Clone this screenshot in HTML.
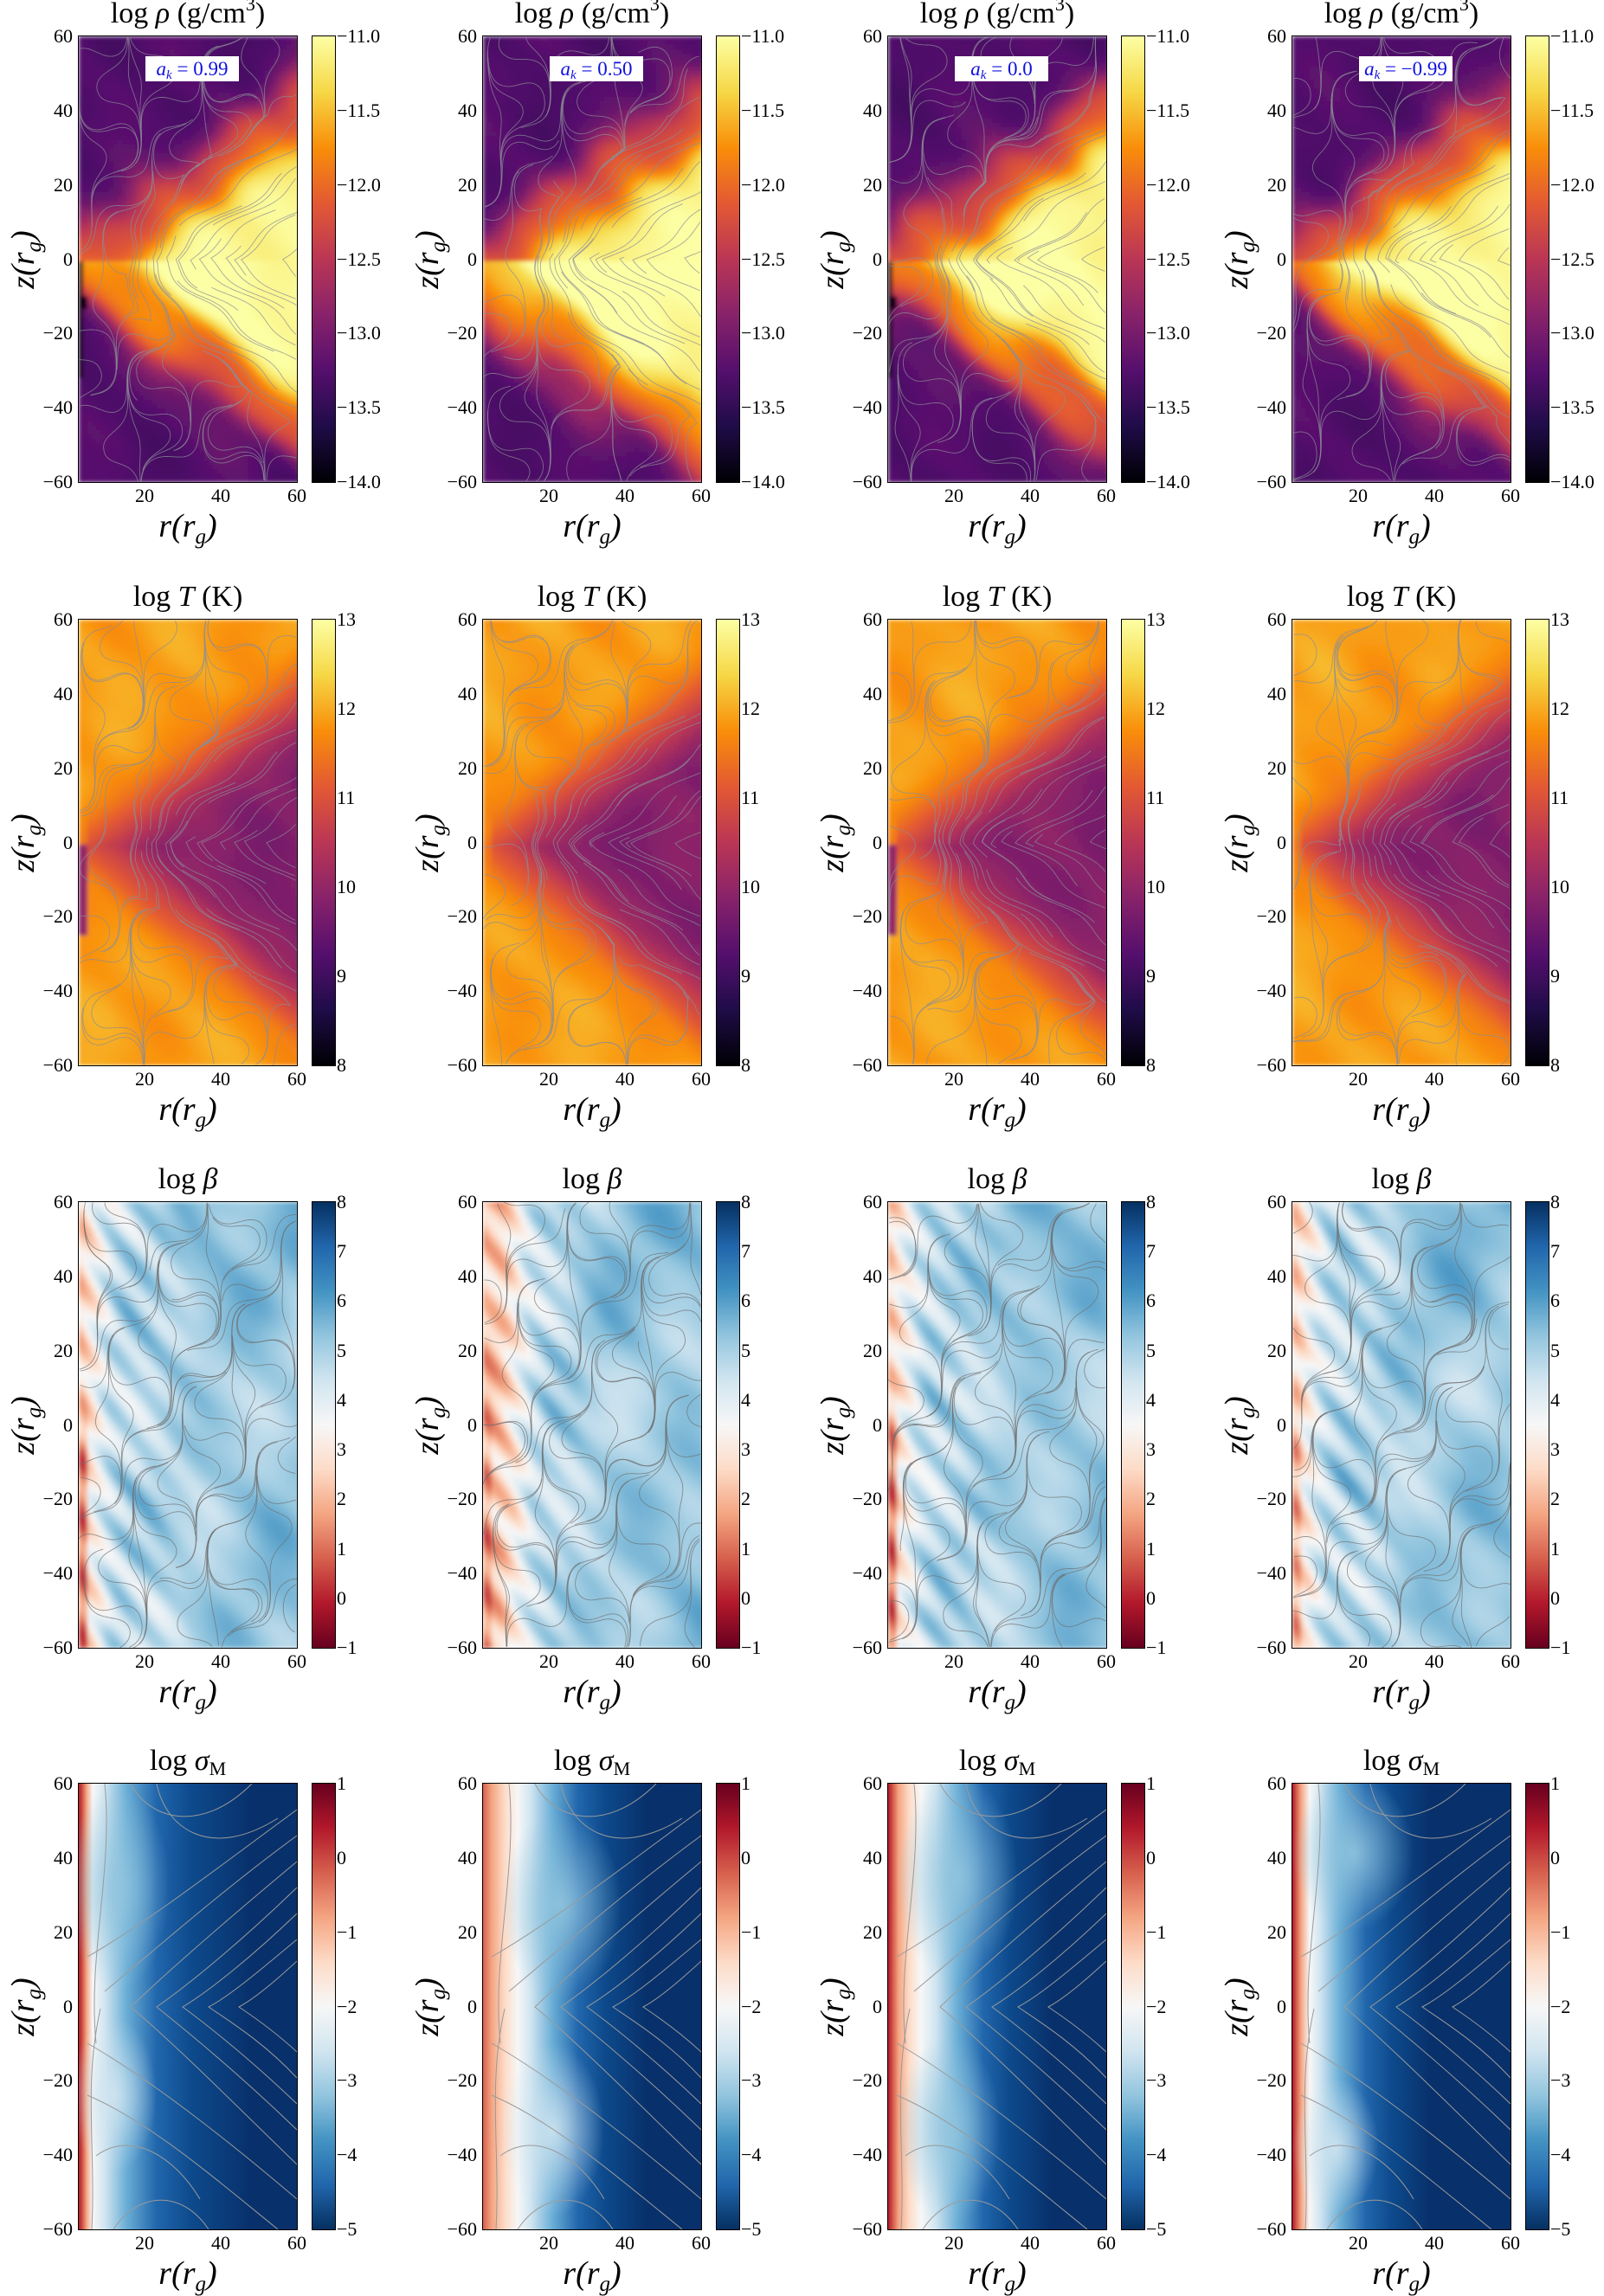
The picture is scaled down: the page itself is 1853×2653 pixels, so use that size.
<!DOCTYPE html>
<html><head><meta charset="utf-8">
<style>
body{margin:0;background:#fff;width:1853px;height:2646px;position:relative;overflow:hidden;font-family:"Liberation Serif",serif;color:#000}
.p{position:absolute;width:252px;height:515px}
.m,.m3{position:absolute;left:0;top:0;width:252px;height:515px;outline:1.5px solid #000;overflow:hidden}
.cb,.cb3{position:absolute;left:270px;top:0;width:26px;height:515px;outline:1.5px solid #000}
.cb3{background:linear-gradient(to bottom,#67001f,#b2182b,#d6604d,#f4a582,#fddbc7,#f7f7f7,#d1e5f0,#92c5de,#4393c3,#2166ac,#053061)}
.m3 svg{position:absolute;left:0;top:0}
.ti{position:absolute;left:-60px;width:372px;text-align:center;top:-46px;font-size:34px;line-height:40px;white-space:nowrap}
.ti sup{font-size:22px;vertical-align:14px;line-height:0}
.ti sub{font-size:22px;vertical-align:-6px;line-height:0}
.yt{position:absolute;right:259px;font-size:22px;line-height:22px;margin-top:-11px;white-space:nowrap}
.xt{position:absolute;top:520px;font-size:22px;line-height:22px;width:40px;margin-left:-20px;text-align:center}
.xl{position:absolute;left:0;width:252px;text-align:center;top:546px;font-size:38px;line-height:40px;font-style:italic}
.xl sub,.yl sub{font-size:25px;vertical-align:-8px;line-height:0}
.yl{position:absolute;left:-92px;top:238px;width:80px;height:40px;font-size:38px;line-height:40px;font-style:italic;text-align:center;transform:rotate(-90deg);transform-origin:center;white-space:nowrap;margin-left:-12px}
.ct{position:absolute;left:298px;font-size:22px;line-height:22px;margin-top:-11px;white-space:nowrap}
.ak{position:absolute;left:77px;top:23px;width:108px;height:29px;background:#fff;color:#1010e0;font-size:23px;line-height:29px;text-align:center;white-space:nowrap;z-index:2}
.ak sub{font-size:15px;vertical-align:-4px;line-height:0}
</style></head><body>

<svg width="0" height="0" style="position:absolute"><defs><g id="sl" fill="none" stroke="#9a9a9a" stroke-width="1">
<path d="M252 150 C200 200 150 240 120 258 C150 280 200 320 252 370"/>
<path d="M252 180 C210 215 175 245 150 258 C175 275 215 300 252 340"/>
<path d="M252 205 C225 230 200 250 185 258 C200 268 225 285 252 310"/>
<path d="M252 120 C190 180 130 230 90 258 C130 290 190 340 252 400"/>
<path d="M252 90 C180 150 110 210 60 258 C110 300 180 370 252 440"/>
<path d="M252 60 C170 120 90 190 30 240"/>
<path d="M252 30 C170 90 80 160 10 200"/>
<path d="M10 300 C80 340 170 410 252 480"/>
<path d="M10 360 C80 390 150 450 230 515"/>
<path d="M30 0 C40 100 10 200 20 300"/>
<path d="M15 515 C20 420 5 350 25 260"/>
<path d="M60 0 C80 40 140 60 200 0"/>
<path d="M40 515 C70 470 120 470 150 515"/>
<path d="M90 0 C100 50 150 90 230 40"/>
<path d="M20 430 C60 400 110 430 140 480"/>
</g></defs></svg>

<!-- ROW 0 -->
<div class="p" style="left:91px;top:42px"><div class="m"></div><div class="cb"></div>
<div class="ti">log <i>ρ</i> (g/cm<sup>3</sup>)</div><div class="ak"><i>a<sub>k</sub></i> = 0.99</div>
<div class="yt" style="top:0">60</div><div class="yt" style="top:86px">40</div><div class="yt" style="top:172px">20</div><div class="yt" style="top:258px">0</div><div class="yt" style="top:343px">−20</div><div class="yt" style="top:429px">−40</div><div class="yt" style="top:515px">−60</div>
<div class="xt" style="left:76px">20</div><div class="xt" style="left:164px">40</div><div class="xt" style="left:252px">60</div>
<div class="xl">r(r<sub>g</sub>)</div><div class="yl">z(r<sub>g</sub>)</div>
<div class="ct" style="top:0">−11.0</div><div class="ct" style="top:86px">−11.5</div><div class="ct" style="top:172px">−12.0</div><div class="ct" style="top:258px">−12.5</div><div class="ct" style="top:343px">−13.0</div><div class="ct" style="top:429px">−13.5</div><div class="ct" style="top:515px">−14.0</div></div>

<div class="p" style="left:558px;top:42px"><div class="m"></div><div class="cb"></div>
<div class="ti">log <i>ρ</i> (g/cm<sup>3</sup>)</div><div class="ak"><i>a<sub>k</sub></i> = 0.50</div>
<div class="yt" style="top:0">60</div><div class="yt" style="top:86px">40</div><div class="yt" style="top:172px">20</div><div class="yt" style="top:258px">0</div><div class="yt" style="top:343px">−20</div><div class="yt" style="top:429px">−40</div><div class="yt" style="top:515px">−60</div>
<div class="xt" style="left:76px">20</div><div class="xt" style="left:164px">40</div><div class="xt" style="left:252px">60</div>
<div class="xl">r(r<sub>g</sub>)</div><div class="yl">z(r<sub>g</sub>)</div>
<div class="ct" style="top:0">−11.0</div><div class="ct" style="top:86px">−11.5</div><div class="ct" style="top:172px">−12.0</div><div class="ct" style="top:258px">−12.5</div><div class="ct" style="top:343px">−13.0</div><div class="ct" style="top:429px">−13.5</div><div class="ct" style="top:515px">−14.0</div></div>

<div class="p" style="left:1026px;top:42px"><div class="m"></div><div class="cb"></div>
<div class="ti">log <i>ρ</i> (g/cm<sup>3</sup>)</div><div class="ak"><i>a<sub>k</sub></i> = 0.0</div>
<div class="yt" style="top:0">60</div><div class="yt" style="top:86px">40</div><div class="yt" style="top:172px">20</div><div class="yt" style="top:258px">0</div><div class="yt" style="top:343px">−20</div><div class="yt" style="top:429px">−40</div><div class="yt" style="top:515px">−60</div>
<div class="xt" style="left:76px">20</div><div class="xt" style="left:164px">40</div><div class="xt" style="left:252px">60</div>
<div class="xl">r(r<sub>g</sub>)</div><div class="yl">z(r<sub>g</sub>)</div>
<div class="ct" style="top:0">−11.0</div><div class="ct" style="top:86px">−11.5</div><div class="ct" style="top:172px">−12.0</div><div class="ct" style="top:258px">−12.5</div><div class="ct" style="top:343px">−13.0</div><div class="ct" style="top:429px">−13.5</div><div class="ct" style="top:515px">−14.0</div></div>

<div class="p" style="left:1493px;top:42px"><div class="m"></div><div class="cb"></div>
<div class="ti">log <i>ρ</i> (g/cm<sup>3</sup>)</div><div class="ak"><i>a<sub>k</sub></i> = −0.99</div>
<div class="yt" style="top:0">60</div><div class="yt" style="top:86px">40</div><div class="yt" style="top:172px">20</div><div class="yt" style="top:258px">0</div><div class="yt" style="top:343px">−20</div><div class="yt" style="top:429px">−40</div><div class="yt" style="top:515px">−60</div>
<div class="xt" style="left:76px">20</div><div class="xt" style="left:164px">40</div><div class="xt" style="left:252px">60</div>
<div class="xl">r(r<sub>g</sub>)</div><div class="yl">z(r<sub>g</sub>)</div>
<div class="ct" style="top:0">−11.0</div><div class="ct" style="top:86px">−11.5</div><div class="ct" style="top:172px">−12.0</div><div class="ct" style="top:258px">−12.5</div><div class="ct" style="top:343px">−13.0</div><div class="ct" style="top:429px">−13.5</div><div class="ct" style="top:515px">−14.0</div></div>

<!-- ROW 1 -->
<div class="p" style="left:91px;top:716px"><div class="m"></div><div class="cb"></div>
<div class="ti">log <i>T</i> (K)</div>
<div class="yt" style="top:0">60</div><div class="yt" style="top:86px">40</div><div class="yt" style="top:172px">20</div><div class="yt" style="top:258px">0</div><div class="yt" style="top:343px">−20</div><div class="yt" style="top:429px">−40</div><div class="yt" style="top:515px">−60</div>
<div class="xt" style="left:76px">20</div><div class="xt" style="left:164px">40</div><div class="xt" style="left:252px">60</div>
<div class="xl">r(r<sub>g</sub>)</div><div class="yl">z(r<sub>g</sub>)</div>
<div class="ct" style="top:0">13</div><div class="ct" style="top:103px">12</div><div class="ct" style="top:206px">11</div><div class="ct" style="top:309px">10</div><div class="ct" style="top:412px">9</div><div class="ct" style="top:515px">8</div></div>

<div class="p" style="left:558px;top:716px"><div class="m"></div><div class="cb"></div>
<div class="ti">log <i>T</i> (K)</div>
<div class="yt" style="top:0">60</div><div class="yt" style="top:86px">40</div><div class="yt" style="top:172px">20</div><div class="yt" style="top:258px">0</div><div class="yt" style="top:343px">−20</div><div class="yt" style="top:429px">−40</div><div class="yt" style="top:515px">−60</div>
<div class="xt" style="left:76px">20</div><div class="xt" style="left:164px">40</div><div class="xt" style="left:252px">60</div>
<div class="xl">r(r<sub>g</sub>)</div><div class="yl">z(r<sub>g</sub>)</div>
<div class="ct" style="top:0">13</div><div class="ct" style="top:103px">12</div><div class="ct" style="top:206px">11</div><div class="ct" style="top:309px">10</div><div class="ct" style="top:412px">9</div><div class="ct" style="top:515px">8</div></div>

<div class="p" style="left:1026px;top:716px"><div class="m"></div><div class="cb"></div>
<div class="ti">log <i>T</i> (K)</div>
<div class="yt" style="top:0">60</div><div class="yt" style="top:86px">40</div><div class="yt" style="top:172px">20</div><div class="yt" style="top:258px">0</div><div class="yt" style="top:343px">−20</div><div class="yt" style="top:429px">−40</div><div class="yt" style="top:515px">−60</div>
<div class="xt" style="left:76px">20</div><div class="xt" style="left:164px">40</div><div class="xt" style="left:252px">60</div>
<div class="xl">r(r<sub>g</sub>)</div><div class="yl">z(r<sub>g</sub>)</div>
<div class="ct" style="top:0">13</div><div class="ct" style="top:103px">12</div><div class="ct" style="top:206px">11</div><div class="ct" style="top:309px">10</div><div class="ct" style="top:412px">9</div><div class="ct" style="top:515px">8</div></div>

<div class="p" style="left:1493px;top:716px"><div class="m"></div><div class="cb"></div>
<div class="ti">log <i>T</i> (K)</div>
<div class="yt" style="top:0">60</div><div class="yt" style="top:86px">40</div><div class="yt" style="top:172px">20</div><div class="yt" style="top:258px">0</div><div class="yt" style="top:343px">−20</div><div class="yt" style="top:429px">−40</div><div class="yt" style="top:515px">−60</div>
<div class="xt" style="left:76px">20</div><div class="xt" style="left:164px">40</div><div class="xt" style="left:252px">60</div>
<div class="xl">r(r<sub>g</sub>)</div><div class="yl">z(r<sub>g</sub>)</div>
<div class="ct" style="top:0">13</div><div class="ct" style="top:103px">12</div><div class="ct" style="top:206px">11</div><div class="ct" style="top:309px">10</div><div class="ct" style="top:412px">9</div><div class="ct" style="top:515px">8</div></div>

<!-- ROW 2 -->
<div class="p" style="left:91px;top:1389px"><div class="m"></div><div class="cb"></div>
<div class="ti">log <i>β</i></div>
<div class="yt" style="top:0">60</div><div class="yt" style="top:86px">40</div><div class="yt" style="top:172px">20</div><div class="yt" style="top:258px">0</div><div class="yt" style="top:343px">−20</div><div class="yt" style="top:429px">−40</div><div class="yt" style="top:515px">−60</div>
<div class="xt" style="left:76px">20</div><div class="xt" style="left:164px">40</div><div class="xt" style="left:252px">60</div>
<div class="xl">r(r<sub>g</sub>)</div><div class="yl">z(r<sub>g</sub>)</div>
<div class="ct" style="top:0">8</div><div class="ct" style="top:57px">7</div><div class="ct" style="top:114px">6</div><div class="ct" style="top:172px">5</div><div class="ct" style="top:229px">4</div><div class="ct" style="top:286px">3</div><div class="ct" style="top:343px">2</div><div class="ct" style="top:401px">1</div><div class="ct" style="top:458px">0</div><div class="ct" style="top:515px">−1</div></div>

<div class="p" style="left:558px;top:1389px"><div class="m"></div><div class="cb"></div>
<div class="ti">log <i>β</i></div>
<div class="yt" style="top:0">60</div><div class="yt" style="top:86px">40</div><div class="yt" style="top:172px">20</div><div class="yt" style="top:258px">0</div><div class="yt" style="top:343px">−20</div><div class="yt" style="top:429px">−40</div><div class="yt" style="top:515px">−60</div>
<div class="xt" style="left:76px">20</div><div class="xt" style="left:164px">40</div><div class="xt" style="left:252px">60</div>
<div class="xl">r(r<sub>g</sub>)</div><div class="yl">z(r<sub>g</sub>)</div>
<div class="ct" style="top:0">8</div><div class="ct" style="top:57px">7</div><div class="ct" style="top:114px">6</div><div class="ct" style="top:172px">5</div><div class="ct" style="top:229px">4</div><div class="ct" style="top:286px">3</div><div class="ct" style="top:343px">2</div><div class="ct" style="top:401px">1</div><div class="ct" style="top:458px">0</div><div class="ct" style="top:515px">−1</div></div>

<div class="p" style="left:1026px;top:1389px"><div class="m"></div><div class="cb"></div>
<div class="ti">log <i>β</i></div>
<div class="yt" style="top:0">60</div><div class="yt" style="top:86px">40</div><div class="yt" style="top:172px">20</div><div class="yt" style="top:258px">0</div><div class="yt" style="top:343px">−20</div><div class="yt" style="top:429px">−40</div><div class="yt" style="top:515px">−60</div>
<div class="xt" style="left:76px">20</div><div class="xt" style="left:164px">40</div><div class="xt" style="left:252px">60</div>
<div class="xl">r(r<sub>g</sub>)</div><div class="yl">z(r<sub>g</sub>)</div>
<div class="ct" style="top:0">8</div><div class="ct" style="top:57px">7</div><div class="ct" style="top:114px">6</div><div class="ct" style="top:172px">5</div><div class="ct" style="top:229px">4</div><div class="ct" style="top:286px">3</div><div class="ct" style="top:343px">2</div><div class="ct" style="top:401px">1</div><div class="ct" style="top:458px">0</div><div class="ct" style="top:515px">−1</div></div>

<div class="p" style="left:1493px;top:1389px"><div class="m"></div><div class="cb"></div>
<div class="ti">log <i>β</i></div>
<div class="yt" style="top:0">60</div><div class="yt" style="top:86px">40</div><div class="yt" style="top:172px">20</div><div class="yt" style="top:258px">0</div><div class="yt" style="top:343px">−20</div><div class="yt" style="top:429px">−40</div><div class="yt" style="top:515px">−60</div>
<div class="xt" style="left:76px">20</div><div class="xt" style="left:164px">40</div><div class="xt" style="left:252px">60</div>
<div class="xl">r(r<sub>g</sub>)</div><div class="yl">z(r<sub>g</sub>)</div>
<div class="ct" style="top:0">8</div><div class="ct" style="top:57px">7</div><div class="ct" style="top:114px">6</div><div class="ct" style="top:172px">5</div><div class="ct" style="top:229px">4</div><div class="ct" style="top:286px">3</div><div class="ct" style="top:343px">2</div><div class="ct" style="top:401px">1</div><div class="ct" style="top:458px">0</div><div class="ct" style="top:515px">−1</div></div>

<!-- ROW 3 (static) -->
<div class="p" style="left:91px;top:2061px"><div class="m3" style="background:radial-gradient(ellipse 50px 90px at 40px 360px,rgba(209,229,240,0.9),rgba(209,229,240,0)),radial-gradient(ellipse 60px 120px at 45px 120px,rgba(146,197,222,0.9),rgba(146,197,222,0)),linear-gradient(to right,#b2182b 0,#d6604d 5px,#f4a582 9px,#f7f7f7 16px,#d1e5f0 30px,#6aaed6 55px,#2166ac 90px,#0d4a8c 130px,#08306b 200px,#08306b 252px)"><svg width="252" height="515"><use href="#sl"/></svg></div><div class="cb3"></div>
<div class="ti">log <i>σ</i><sub>M</sub></div>
<div class="yt" style="top:0">60</div><div class="yt" style="top:86px">40</div><div class="yt" style="top:172px">20</div><div class="yt" style="top:258px">0</div><div class="yt" style="top:343px">−20</div><div class="yt" style="top:429px">−40</div><div class="yt" style="top:515px">−60</div>
<div class="xt" style="left:76px">20</div><div class="xt" style="left:164px">40</div><div class="xt" style="left:252px">60</div>
<div class="xl">r(r<sub>g</sub>)</div><div class="yl">z(r<sub>g</sub>)</div>
<div class="ct" style="top:0">1</div><div class="ct" style="top:86px">0</div><div class="ct" style="top:172px">−1</div><div class="ct" style="top:258px">−2</div><div class="ct" style="top:343px">−3</div><div class="ct" style="top:429px">−4</div><div class="ct" style="top:515px">−5</div></div>

<div class="p" style="left:558px;top:2061px"><div class="m3" style="background:radial-gradient(ellipse 70px 110px at 90px 140px,rgba(146,197,222,0.9),rgba(146,197,222,0)),radial-gradient(ellipse 60px 100px at 80px 400px,rgba(209,229,240,0.9),rgba(209,229,240,0)),linear-gradient(to right,#d6604d 0,#f4a582 10px,#fddbc7 25px,#f7f7f7 40px,#d1e5f0 55px,#6aaed6 80px,#2166ac 110px,#0d4a8c 140px,#08306b 190px,#08306b 252px)"><svg width="252" height="515"><use href="#sl"/></svg></div><div class="cb3"></div>
<div class="ti">log <i>σ</i><sub>M</sub></div>
<div class="yt" style="top:0">60</div><div class="yt" style="top:86px">40</div><div class="yt" style="top:172px">20</div><div class="yt" style="top:258px">0</div><div class="yt" style="top:343px">−20</div><div class="yt" style="top:429px">−40</div><div class="yt" style="top:515px">−60</div>
<div class="xt" style="left:76px">20</div><div class="xt" style="left:164px">40</div><div class="xt" style="left:252px">60</div>
<div class="xl">r(r<sub>g</sub>)</div><div class="yl">z(r<sub>g</sub>)</div>
<div class="ct" style="top:0">1</div><div class="ct" style="top:86px">0</div><div class="ct" style="top:172px">−1</div><div class="ct" style="top:258px">−2</div><div class="ct" style="top:343px">−3</div><div class="ct" style="top:429px">−4</div><div class="ct" style="top:515px">−5</div></div>

<div class="p" style="left:1026px;top:2061px"><div class="m3" style="background:radial-gradient(ellipse 70px 120px at 80px 110px,rgba(146,197,222,0.9),rgba(146,197,222,0)),radial-gradient(ellipse 60px 110px at 70px 400px,rgba(146,197,222,0.9),rgba(146,197,222,0)),linear-gradient(to right,#b2182b 0,#d6604d 6px,#f4a582 12px,#fddbc7 24px,#f7f7f7 38px,#d1e5f0 55px,#6aaed6 80px,#2166ac 110px,#0d4a8c 140px,#08306b 190px,#08306b 252px)"><svg width="252" height="515"><use href="#sl"/></svg></div><div class="cb3"></div>
<div class="ti">log <i>σ</i><sub>M</sub></div>
<div class="yt" style="top:0">60</div><div class="yt" style="top:86px">40</div><div class="yt" style="top:172px">20</div><div class="yt" style="top:258px">0</div><div class="yt" style="top:343px">−20</div><div class="yt" style="top:429px">−40</div><div class="yt" style="top:515px">−60</div>
<div class="xt" style="left:76px">20</div><div class="xt" style="left:164px">40</div><div class="xt" style="left:252px">60</div>
<div class="xl">r(r<sub>g</sub>)</div><div class="yl">z(r<sub>g</sub>)</div>
<div class="ct" style="top:0">1</div><div class="ct" style="top:86px">0</div><div class="ct" style="top:172px">−1</div><div class="ct" style="top:258px">−2</div><div class="ct" style="top:343px">−3</div><div class="ct" style="top:429px">−4</div><div class="ct" style="top:515px">−5</div></div>

<div class="p" style="left:1493px;top:2061px"><div class="m3" style="background:radial-gradient(ellipse 70px 90px at 70px 80px,rgba(146,197,222,0.9),rgba(146,197,222,0)),radial-gradient(ellipse 50px 80px at 50px 420px,rgba(209,229,240,0.9),rgba(209,229,240,0)),linear-gradient(to right,#b2182b 0,#d6604d 5px,#f4a582 10px,#f7f7f7 20px,#d1e5f0 32px,#6aaed6 55px,#2166ac 85px,#0d4a8c 115px,#08306b 160px,#08306b 252px)"><svg width="252" height="515"><use href="#sl"/></svg></div><div class="cb3"></div>
<div class="ti">log <i>σ</i><sub>M</sub></div>
<div class="yt" style="top:0">60</div><div class="yt" style="top:86px">40</div><div class="yt" style="top:172px">20</div><div class="yt" style="top:258px">0</div><div class="yt" style="top:343px">−20</div><div class="yt" style="top:429px">−40</div><div class="yt" style="top:515px">−60</div>
<div class="xt" style="left:76px">20</div><div class="xt" style="left:164px">40</div><div class="xt" style="left:252px">60</div>
<div class="xl">r(r<sub>g</sub>)</div><div class="yl">z(r<sub>g</sub>)</div>
<div class="ct" style="top:0">1</div><div class="ct" style="top:86px">0</div><div class="ct" style="top:172px">−1</div><div class="ct" style="top:258px">−2</div><div class="ct" style="top:343px">−3</div><div class="ct" style="top:429px">−4</div><div class="ct" style="top:515px">−5</div></div>

<script>
(function(){
function hex(h){return [parseInt(h.substr(1,2),16),parseInt(h.substr(3,2),16),parseInt(h.substr(5,2),16)];}
var INFH=["#000004","#1f0c48","#550f6d","#88226a","#ba3655","#e35933","#f98e09","#f6d746","#fcffa4"];
var RDBUH=["#67001f","#b2182b","#d6604d","#f4a582","#fddbc7","#f7f7f7","#d1e5f0","#92c5de","#4393c3","#2166ac","#053061"];
var INF=INFH.map(hex),RDBU=RDBUH.map(hex);
function cm(st,t){if(!(t>=0))t=0;t=Math.min(1,t);var n=st.length-1,f=t*n,i=Math.min(n-1,Math.floor(f)),u=f-i,a=st[i],b=st[i+1];
return 'rgb('+Math.round(a[0]+(b[0]-a[0])*u)+','+Math.round(a[1]+(b[1]-a[1])*u)+','+Math.round(a[2]+(b[2]-a[2])*u)+')';}
function sg(x){return 1/(1+Math.exp(-x));}
function nz(r,z,s){return Math.sin(0.21*r+0.13*z+s)*0.5+Math.sin(0.09*z-0.17*r+2.1*s)*0.35+Math.sin(0.33*z+0.27*r+3.7*s)*0.25;}
function field(row,col,r,z){
  var s=col*1.7+0.5,n=nz(r,z,s),az=Math.abs(z);
  if(row==0){
    var up=0.72*(r-6)+3*n, lo=0.8*(r-4)+4*n+(col==1?6:0);
    var e=z>=0?up:lo;
    var t=0.24+0.36*sg((e+10-az)/3)+0.38*sg((e-8-az)/3)+0.03*n;
    if(z<0) t+=0.12*sg((lo+14-az)/4)*sg((40-r)/6);
    if(col==0||col==2){var bh=4.5-0.06*Math.abs(z+12);if(r<bh&&z<0&&z>-32) t=0.03;}
    return cm(INF,t);
  } else if(row==1){
    var up2=0.75*(r-8)+3*n, lo2=0.85*(r-6)+4*n;
    var e2=z>=0?up2:lo2;
    var t2=0.78-0.2*sg((e2+6-az)/4)-0.22*sg((e2-6-az)/4)+0.04*n;
    if(r<5) t2+=0.08*sg((4-az)/2);
    if((col==0||col==2)&&r<4.5&&z<0&&z>-25) t2=0.4;
    return cm(INF,t2);
  } else {
    var u=0.64+0.07*n+0.08*sg((r-40)/8)*sg(-z/10);
    u+=0.08*sg((z-0.5*r)/5)*sg((r-30)/4);
    var edge=7+(col==1?5:0)+3*n;
    u-=0.3*sg((edge-r)/2);
    if(r<5) u-=0.18*sg((-z)/4)*(col==0||col==2?1:0.5);
    u+=0.1*Math.sin(0.5*r+0.4*z+s)*sg((25-r)/5);
    return cm(RDBU,u);
  }
}
var mains=document.querySelectorAll('div.m'), cbs=document.querySelectorAll('div.cb');
var W=252,H=515,CS=5;
function draw(k){
  var row=Math.floor(k/4),col=k%4;
  var h=['<svg width="252" height="515" xmlns="http://www.w3.org/2000/svg"><defs><filter id="b'+k+'" x="0" y="0" width="1" height="1"><feGaussianBlur stdDeviation="2.5" edgeMode="duplicate"/></filter></defs><g filter="url(#b'+k+')">'];
  for(var y=0;y<H;y+=CS){var z=60-120*(y+CS/2)/H;for(var x=0;x<W;x+=CS){var r=2.7+57.3*(x+CS/2)/W;
    h.push('<rect x="'+x+'" y="'+y+'" width="'+(CS+0.6)+'" height="'+(CS+0.6)+'" fill="'+field(row,col,r,z)+'"/>');}}
  h.push('</g>');
  var s=col*1.3+row*0.7;
  var ang=function(x,y){var r=2.7+57.3*x/W,z=60-120*y/H;
    var a=Math.PI/2+1.1*Math.sin(0.05*x+0.03*y+s)+0.9*Math.cos(0.045*y-0.035*x+2*s);
    if(row<2&&r>15&&Math.abs(z)<0.75*r){a=Math.PI/2+(z>0?0.9:-0.9)*Math.min(1,(r-15)/20)+0.3*Math.sin(0.1*y+s);}
    return a;};
  var sc=row>=2?'rgba(110,110,110,0.7)':'rgba(140,140,150,0.75)';
  h.push('<g fill="none" stroke="'+sc+'" stroke-width="0.9">');
  for(var gy=0;gy<11;gy++)for(var gx=0;gx<6;gx++){
    var px0=20+gx*42+((gy*13+k*7)%11),py0=18+gy*46+((gx*17+k*5)%13);
    for(var dir=-1;dir<=1;dir+=2){var px=px0,py=py0,d='M'+px.toFixed(1)+' '+py.toFixed(1);
      for(var st=0;st<40;st++){var a=ang(px,py);px+=dir*2.5*Math.cos(a);py+=dir*2.5*Math.sin(a);if(px<0||px>W||py<0||py>H)break;d+='L'+px.toFixed(1)+' '+py.toFixed(1);}
      h.push('<path d="'+d+'"/>');}
  }
  h.push('</g></svg>');
  mains[k].innerHTML=h.join('');
  var stops=row<2?INFH:RDBUH, g='';
  for(var i=stops.length-1;i>=0;i--){g+='<stop offset="'+(1-i/(stops.length-1))+'" stop-color="'+stops[i]+'"/>';}
  cbs[k].innerHTML='<svg width="26" height="515" xmlns="http://www.w3.org/2000/svg"><defs><linearGradient id="g'+k+'" x1="0" y1="0" x2="0" y2="1">'+g+'</linearGradient></defs><rect width="26" height="515" fill="url(#g'+k+')"/></svg>';
}
for(var k=0;k<mains.length&&k<12;k++){try{draw(k);}catch(e){}}
})();
</script>
</body></html>
